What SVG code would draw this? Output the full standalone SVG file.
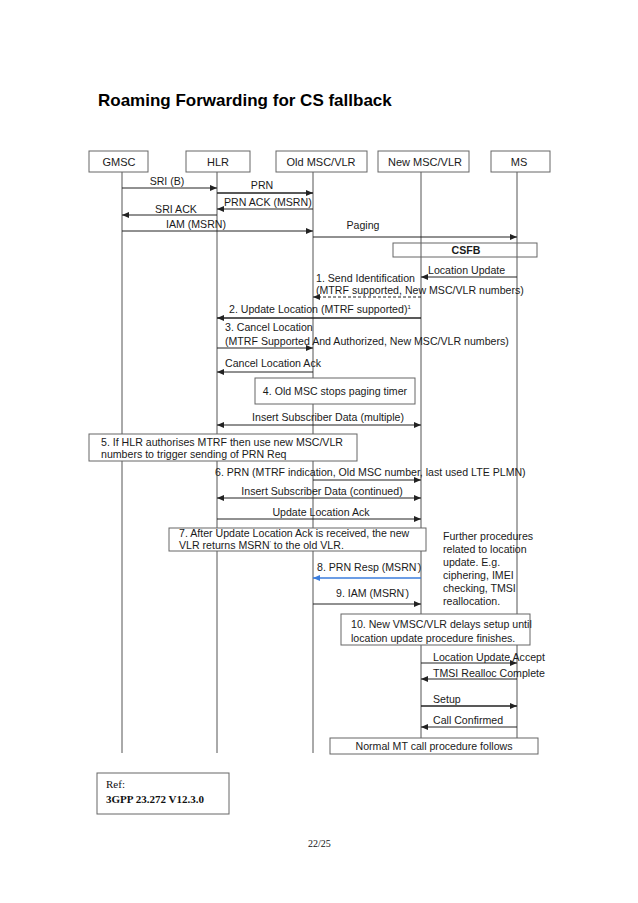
<svg xmlns="http://www.w3.org/2000/svg" width="638" height="903" viewBox="0 0 638 903">
<defs>
<style>
text{font-family:"Liberation Sans",Arial,sans-serif;font-size:10.6px;fill:#1a1a1a}
.hd{font-size:11px}
.ti{font-size:17px;font-weight:bold;fill:#000}
.mid{text-anchor:middle}
.box{fill:#fff;stroke:#666;stroke-width:1}
.life{stroke:#555;stroke-width:1}
.msg{stroke:#222;stroke-width:1;fill:none}
.thk{stroke-width:1.6}
.dash{stroke-dasharray:3,2}
.blue{stroke:#3b7ddd}
.tm{font-family:"Liberation Serif","Times New Roman",serif;font-size:11px;fill:#111}
</style>
<marker id="ah" viewBox="0 0 7 6" markerWidth="7" markerHeight="6" refX="7" refY="3" orient="auto-start-reverse" markerUnits="userSpaceOnUse"><path d="M0,0 L7,3 L0,6 z" fill="#222"/></marker>
<marker id="ahb" viewBox="0 0 7 6" markerWidth="7" markerHeight="6" refX="7" refY="3" orient="auto" markerUnits="userSpaceOnUse"><path d="M0,0 L7,3 L0,6 z" fill="#3b7ddd"/></marker>
</defs>
<rect width="638" height="903" fill="#fff"/>
<text class="ti" x="98" y="106">Roaming Forwarding for CS fallback</text>

<g id="lifelines">
<line class="life" x1="122" y1="172" x2="122" y2="753"/>
<line class="life" x1="217" y1="172" x2="217" y2="753"/>
<line class="life" x1="313" y1="172" x2="313" y2="753"/>
<line class="life" x1="421" y1="172" x2="421" y2="738"/>
<line class="life" x1="517" y1="172" x2="517" y2="738"/>
</g>

<g id="GMSC"><rect class="box" x="89" y="151" width="59" height="21"/><text class="hd mid" x="119" y="166">GMSC</text></g>
<g id="HLR"><rect class="box" x="186" y="151" width="64" height="21"/><text class="hd mid" x="218" y="166">HLR</text></g>
<g id="OldMSC"><rect class="box" x="276" y="151" width="91" height="21"/><text class="hd mid" x="321" y="166">Old MSC/VLR</text></g>
<g id="NewMSC"><rect class="box" x="378" y="151" width="91" height="21"/><text class="hd mid" x="425" y="166">New MSC/VLR</text></g>
<g id="MS"><rect class="box" x="491" y="151" width="59" height="21"/><text class="hd mid" x="519" y="166">MS</text></g>

<g id="connectors">
<line class="msg" x1="122" y1="188" x2="217" y2="188" marker-end="url(#ah)"/>
<line class="msg thk" x1="217" y1="193" x2="313" y2="193" marker-end="url(#ah)"/>
<line class="msg" x1="313" y1="209" x2="217" y2="209" marker-end="url(#ah)"/>
<line class="msg" x1="217" y1="215" x2="122" y2="215" marker-end="url(#ah)"/>
<line class="msg" x1="122" y1="231" x2="313" y2="231" marker-end="url(#ah)"/>
<line class="msg" x1="313" y1="237" x2="517" y2="237" marker-end="url(#ah)"/>
<line class="msg" x1="517" y1="277" x2="421" y2="277" marker-end="url(#ah)"/>
<line class="msg dash" x1="421" y1="297" x2="313" y2="297" marker-end="url(#ah)"/>
<line class="msg thk" x1="421" y1="318" x2="217" y2="318" marker-end="url(#ah)"/>
<line class="msg" x1="217" y1="348" x2="313" y2="348" marker-end="url(#ah)"/>
<line class="msg" x1="313" y1="372" x2="217" y2="372" marker-end="url(#ah)"/>
<line class="msg" x1="217" y1="425" x2="421" y2="425" marker-start="url(#ah)" marker-end="url(#ah)"/>
<line class="msg" x1="313" y1="480" x2="421" y2="480" marker-end="url(#ah)"/>
<line class="msg" x1="217" y1="498" x2="421" y2="498" marker-start="url(#ah)" marker-end="url(#ah)"/>
<line class="msg" x1="217" y1="519" x2="421" y2="519" marker-end="url(#ah)"/>
<line class="msg blue thk" x1="421" y1="578" x2="313" y2="578" marker-end="url(#ahb)"/>
<line class="msg" x1="313" y1="604" x2="421" y2="604" marker-end="url(#ah)"/>
<line class="msg" x1="421" y1="663" x2="517" y2="663" marker-end="url(#ah)"/>
<line class="msg" x1="517" y1="679" x2="421" y2="679" marker-end="url(#ah)"/>
<line class="msg thk" x1="421" y1="706" x2="517" y2="706" marker-end="url(#ah)"/>
<line class="msg" x1="517" y1="727" x2="421" y2="727" marker-end="url(#ah)"/>
</g>

<g id="labels">
<text class="mid" x="167" y="185">SRI (B)</text>
<text class="mid" x="262" y="189">PRN</text>
<text x="224" y="206">PRN ACK (MSRN)</text>
<text class="mid" x="176" y="213">SRI ACK</text>
<text class="mid" x="196" y="228">IAM (MSRN)</text>
<text class="mid" x="363" y="229">Paging</text>
<text x="428" y="274">Location Update</text>
<text x="316" y="282">1. Send Identification</text>
<text x="316" y="294">(MTRF supported, New MSC/VLR numbers)</text>
<text x="229" y="313">2. Update Location (MTRF supported)<tspan font-size="6" dy="-4">1</tspan></text>
<text x="225" y="331">3. Cancel Location</text>
<text x="225" y="345">(MTRF Supported And Authorized, New MSC/VLR numbers)</text>
<text x="225" y="367">Cancel Location Ack</text>
<text class="mid" x="328" y="421">Insert Subscriber Data (multiple)</text>
<text x="215" y="476">6. PRN (MTRF indication, Old MSC number, last used LTE PLMN)</text>
<text class="mid" x="322" y="495">Insert Subscriber Data (continued)</text>
<text class="mid" x="321" y="516">Update Location Ack</text>
<text x="317" y="571">8. PRN Resp (MSRN<tspan font-size="6" dy="-4" fill="#3b7ddd">'</tspan><tspan dy="4">)</tspan></text>
<text x="336" y="597">9. IAM (MSRN<tspan font-size="6" dy="-4">'</tspan><tspan dy="4">)</tspan></text>
<text x="433" y="661">Location Update Accept</text>
<text x="433" y="677">TMSI Realloc Complete</text>
<text x="433" y="703">Setup</text>
<text x="433" y="724">Call Confirmed</text>
</g>

<g id="CSFB"><rect x="393" y="243" width="144" height="14" fill="none" stroke="#666"/><text class="mid" x="466" y="254" font-weight="bold">CSFB</text></g>
<g id="note4"><rect class="box" x="255" y="378" width="160" height="26"/><text class="mid" x="335" y="395">4. Old MSC stops paging timer</text></g>
<g id="note5"><rect class="box" x="89" y="434" width="268" height="27"/><text x="101" y="446">5. If HLR authorises MTRF then use new MSC/VLR</text><text x="101" y="458">numbers to trigger sending of PRN Req</text></g>
<g id="note7"><rect class="box" x="169" y="528" width="257" height="23"/><text x="179" y="537">7. After Update Location Ack is received, the new</text><text x="179" y="549">VLR returns MSRN<tspan font-size="6" dy="-4">'</tspan><tspan dy="4"> to the old VLR.</tspan></text></g>
<g id="further"><text x="443" y="540">Further procedures</text><text x="443" y="553">related to location</text><text x="443" y="566">update. E.g.</text><text x="443" y="579">ciphering, IMEI</text><text x="443" y="592">checking, TMSI</text><text x="443" y="605">reallocation.</text></g>
<g id="note10"><rect class="box" x="341" y="614" width="189" height="31"/><text x="351" y="628">10. New VMSC/VLR delays setup until</text><text x="351" y="642">location update procedure finishes.</text></g>
<g id="normal"><rect class="box" x="330" y="738" width="208" height="16"/><text class="mid" x="434" y="750">Normal MT call procedure follows</text></g>
<g id="ref"><rect class="box" x="97" y="773" width="132" height="41"/><text class="tm" x="106" y="788">Ref:</text><text class="tm" x="106" y="803" font-weight="bold">3GPP 23.272 V12.3.0</text></g>
<text class="tm" x="308" y="847" style="font-size:10px">22/25</text>
</svg>
